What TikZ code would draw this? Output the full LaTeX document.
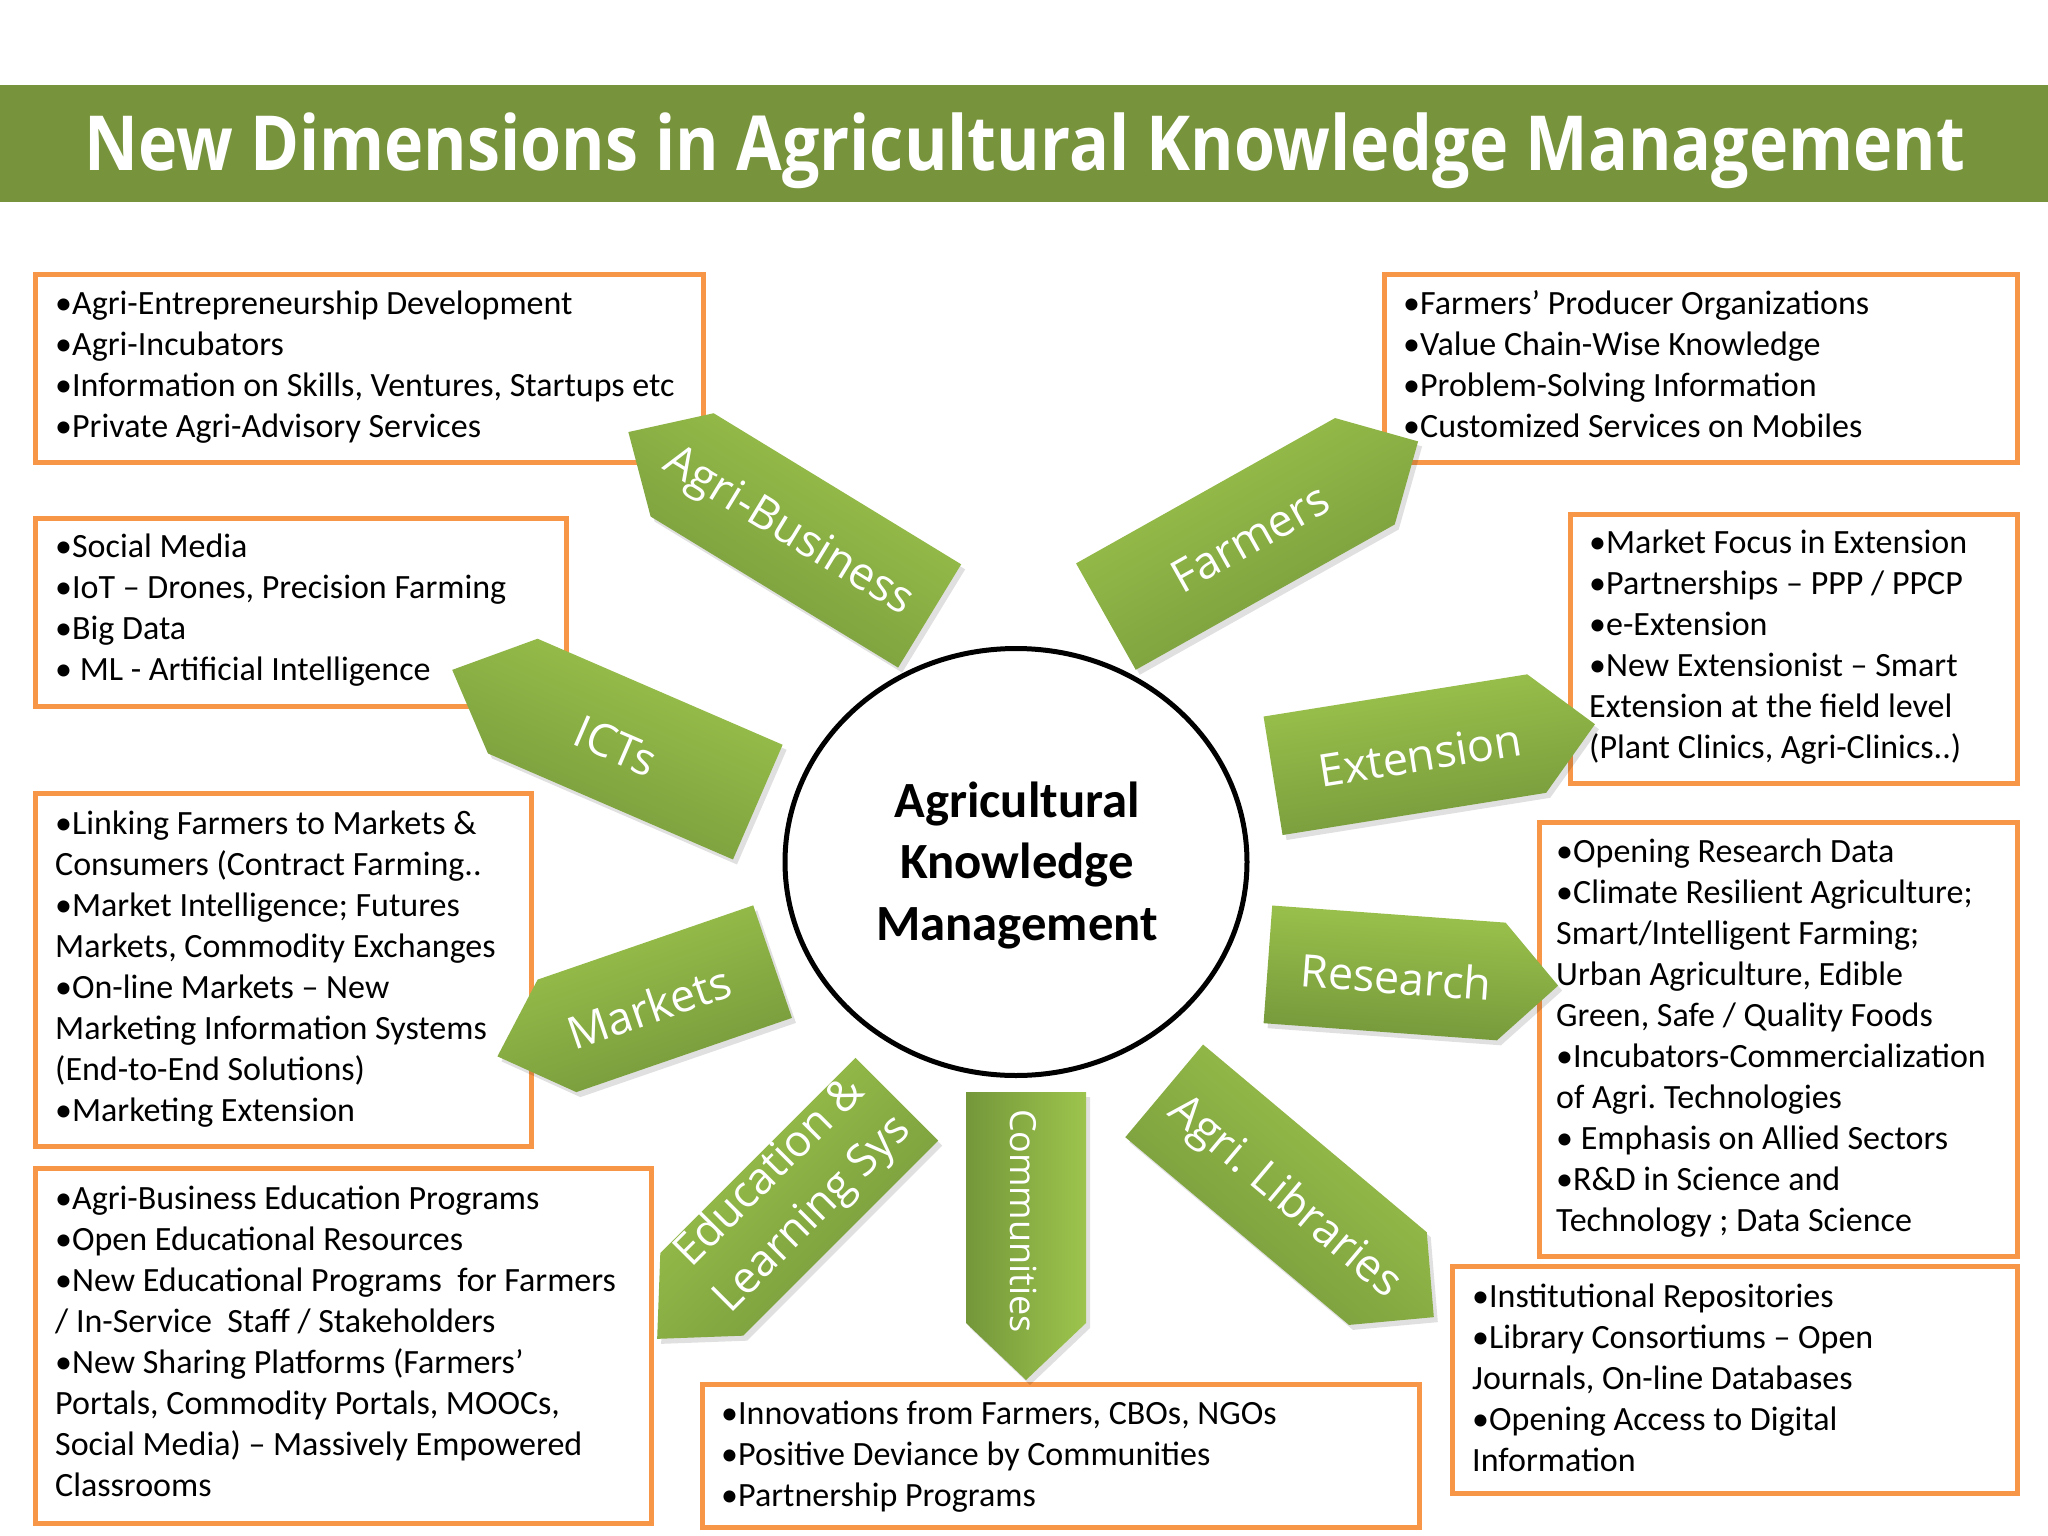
\documentclass[tikz,border=0pt]{standalone}
\usepackage{fontspec}
\setmainfont{Carlito}
\newfontfamily\osans{Open Sans}
\usetikzlibrary{shapes.geometric}
\definecolor{titlegreen}{HTML}{77933C}
\definecolor{boxorange}{HTML}{F79646}
\definecolor{arrlight}{HTML}{9DC44D}
\definecolor{arrdark}{HTML}{74973A}
\newcommand\btext[1]{\begin{tabular}[t]{@{}l@{}}#1\end{tabular}}
\newcommand\agshape[7]{% cx cy rot sign L W D
  \begin{scope}[shift={(#1+4,#2+5)}, rotate=#3, xscale=#4]
    \fill[black, opacity=0.12] (-#5/2,-#6/2) -- (#5/2-#7,-#6/2) -- (#5/2,0) -- (#5/2-#7,#6/2) -- (-#5/2,#6/2) -- cycle;
  \end{scope}
  \begin{scope}[shift={(#1,#2)}, rotate=#3, xscale=#4]
    \shade[arrowfill, shading angle=#3] (-#5/2,-#6/2) -- (#5/2-#7,-#6/2) -- (#5/2,0) -- (#5/2-#7,#6/2) -- (-#5/2,#6/2) -- cycle;
  \end{scope}}
\tikzset{
  infobox/.style={draw=boxorange, line width=5pt, fill=white, inner sep=0pt, anchor=north west},
  boxtext/.style={anchor=base west, inner sep=0pt, font=\fontsize{34}{41}\selectfont},
  arrowfill/.style={top color=arrlight, bottom color=arrdark},
  arrlabel/.style={text=white, inner sep=0pt, font=\osans\fontsize{45}{56}\selectfont, align=center},
}
\begin{document}
\begin{tikzpicture}[x=1pt,y=-1pt]
\useasboundingbox (0,0) rectangle (2048,1536);
\fill[white] (0,0) rectangle (2048,1536);
% title
\fill[titlegreen] (0,85) rectangle (2048,202);
\node[anchor=base, text=white, inner sep=0pt] (title) at (1025,171)
  {\resizebox{1881pt}{\height}{\osans\bfseries\fontsize{76}{80}\selectfont New Dimensions in Agricultural Knowledge Management}};
% boxes
\node[infobox, minimum width=668pt, minimum height=188pt] (b1) at (33,272) {};
\node[boxtext] (t1) at (55,314) {\btext{•Agri-Entrepreneurship Development\\•Agri-Incubators\\•Information on Skills, Ventures, Startups etc\\•Private Agri-Advisory Services}};
\node[infobox, minimum width=633pt, minimum height=188pt] (b2) at (1382,272) {};
\node[boxtext] (t2) at (1403,314) {\btext{•Farmers’ Producer Organizations\\•Value Chain-Wise Knowledge\\•Problem-Solving Information\\•Customized Services on Mobiles}};
\node[infobox, minimum width=531pt, minimum height=188pt] (b3) at (33,516) {};
\node[boxtext] (t3) at (55,557) {\btext{•Social Media\\•IoT – Drones, Precision Farming\\•Big Data\\• ML - Artificial Intelligence}};
\node[infobox, minimum width=447pt, minimum height=269pt] (b4) at (1568,512) {};
\node[boxtext] (t4) at (1589,553) {\btext{•Market Focus in Extension\\•Partnerships – PPP / PPCP\\•e-Extension\\•New Extensionist – Smart\\Extension at the field level\\(Plant Clinics, Agri-Clinics..)}};
\node[infobox, minimum width=496pt, minimum height=353pt] (b5) at (33,791) {};
\node[boxtext] (t5) at (55,834) {\btext{•Linking Farmers to Markets \&\\Consumers (Contract Farming..\\•Market Intelligence; Futures\\Markets, Commodity Exchanges\\•On-line Markets – New\\Marketing Information Systems\\(End-to-End Solutions)\\•Marketing Extension}};
\node[infobox, minimum width=478pt, minimum height=434pt] (b6) at (1537,820) {};
\node[boxtext] (t6) at (1556,862) {\btext{•Opening Research Data\\•Climate Resilient Agriculture;\\Smart/Intelligent Farming;\\Urban Agriculture, Edible\\Green, Safe / Quality Foods\\•Incubators-Commercialization\\of Agri.\ Technologies\\• Emphasis on Allied Sectors\\•R\&D in Science and\\Technology ; Data Science}};
\node[infobox, minimum width=616pt, minimum height=355pt] (b7) at (33,1166) {};
\node[boxtext] (t7) at (55,1209) {\btext{•Agri-Business Education Programs\\•Open Educational Resources\\•New Educational Programs\ \ for Farmers\\/ In-Service\ \ Staff / Stakeholders\\•New Sharing Platforms (Farmers’\\Portals, Commodity Portals, MOOCs,\\Social Media) – Massively Empowered\\Classrooms}};
\node[infobox, minimum width=717pt, minimum height=143pt] (b8) at (700,1382) {};
\node[boxtext] (t8) at (721,1424) {\btext{•Innovations from Farmers, CBOs, NGOs\\•Positive Deviance by Communities\\•Partnership Programs}};
\node[infobox, minimum width=565pt, minimum height=227pt] (b9) at (1450,1264) {};
\node[boxtext] (t9) at (1472,1307) {\btext{•Institutional Repositories\\•Library Consortiums – Open\\Journals, On-line Databases\\•Opening Access to Digital\\Information}};
% centre
\node[ellipse, draw=black, line width=5pt, fill=white, minimum width=462pt, minimum height=427pt, inner sep=0pt] (hub) at (1016,862) {};
\node[anchor=base, inner sep=0pt, font=\bfseries\fontsize{50.7}{61.5}\selectfont] (hubtext) at (1017,817)
  {\begin{tabular}[t]{@{}c@{}}Agricultural\\Knowledge\\Management\end{tabular}};
% arrows
\agshape{779}{524}{-31.4}{-1}{353}{121}{63}
\agshape{1262}{529}{29.3}{1}{358}{122}{61}
\agshape{605}{736}{-23.4}{-1}{333}{125}{66}
\agshape{1434}{750}{9.1}{1}{326}{120}{59}
\agshape{635}{1009}{19}{-1}{291}{119}{63}
\agshape{1413}{975}{-4.2}{1}{291}{118}{57}
\agshape{1026}{1236}{-90}{1}{288}{120}{57}
\agshape{777}{1219}{45}{-1}{339}{117}{63}
\agshape{1299}{1204}{-40}{1}{352}{121}{60}
\node[arrlabel, rotate=-31.4] (l1) at (788,533) {Agri-Business};
\node[arrlabel, rotate=29.3] (l2) at (1250,538) {Farmers};
\node[arrlabel, rotate=-23.4] (l3) at (616,746) {ICTs};
\node[arrlabel, rotate=9.1] (l4) at (1420,755) {Extension};
\node[arrlabel, rotate=19] (l5) at (649,1007) {Markets};
\node[arrlabel, rotate=-4.2] (l6) at (1396,977) {Research};
\node[arrlabel, rotate=-90, font=\osans\fontsize{36}{40}\selectfont] (l7) at (1024,1221) {Communities};
\node[arrlabel, rotate=45, font=\osans\fontsize{44}{60}\selectfont] (l8) at (792,1194) {Education \&\\Learning Sys};
\node[arrlabel, rotate=-40] (l9) at (1284,1198) {Agri.\ Libraries};
\end{tikzpicture}
\end{document}
